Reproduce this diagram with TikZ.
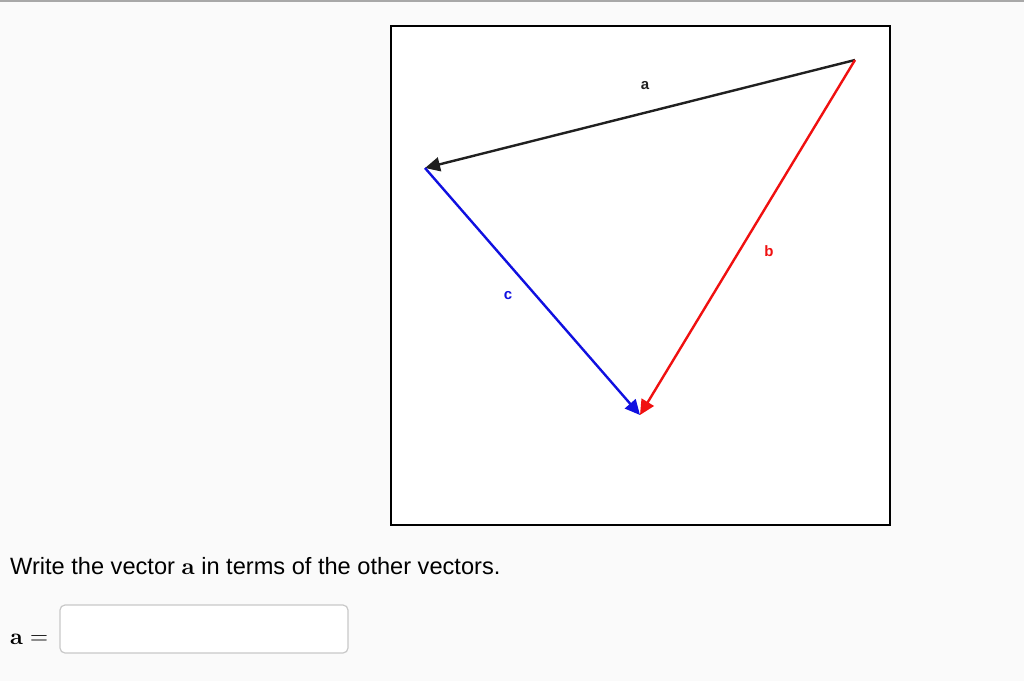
\documentclass[tikz,border=0pt]{standalone}
\usepackage[no-math]{fontspec}
\setmainfont{Liberation Sans}
\newfontfamily\lmbold{lmroman10-bold.otf}
\usetikzlibrary{arrows.meta}
\definecolor{bgc}{HTML}{FAFAFA}
\definecolor{topline}{HTML}{A8A8A8}
\definecolor{vred}{HTML}{F01010}
\definecolor{vblue}{HTML}{1010E0}
\definecolor{vblack}{HTML}{202020}
\definecolor{inputgray}{HTML}{C8C8C8}
\tikzset{
  vec/.style={line width=2.4pt,-{Triangle[length=15pt,width=14pt]}},
  lab/.style={font=\fontsize{15}{15}\selectfont\bfseries, inner sep=0pt},
}
\begin{document}
\begin{tikzpicture}[x=1pt,y=-1pt]
\useasboundingbox (0,0) rectangle (1024,681);
\fill[bgc] (0,0) rectangle (1024,681);
\fill[topline] (0,0) rectangle (1024,2);
\draw[line width=2pt, black, fill=white] (391,26) rectangle (890,525);
\coordinate (P) at (855,60);
\coordinate (Q) at (425,168);
\coordinate (R) at (640,415);
\draw[vec, vblack] (P) -- (Q);
\draw[vec, vblue] (Q) -- (R);
\draw[vec, vred] (P) -- (R);
\node[lab, text=vblack] (la) at (645,86) {a};
\node[lab, text=vred] (lb) at (769,251) {b};
\node[lab, text=vblue] (lc) at (508,296) {c};
\node[anchor=base west, inner sep=0pt, font=\fontsize{23.6}{24}\selectfont] (q) at (10,574) {Write the vector {\lmbold a} in terms of the other vectors.};
\node[anchor=base west, inner sep=0pt, font=\fontsize{23}{23}\selectfont] (eq) at (10,644) {{\lmbold a}\hspace{7pt}{\fontsize{24}{24}\selectfont$=$}};
\draw[inputgray, line width=1.2pt, fill=white, rounded corners=5pt] (60,605) rectangle (348,653);
\end{tikzpicture}
\end{document}
